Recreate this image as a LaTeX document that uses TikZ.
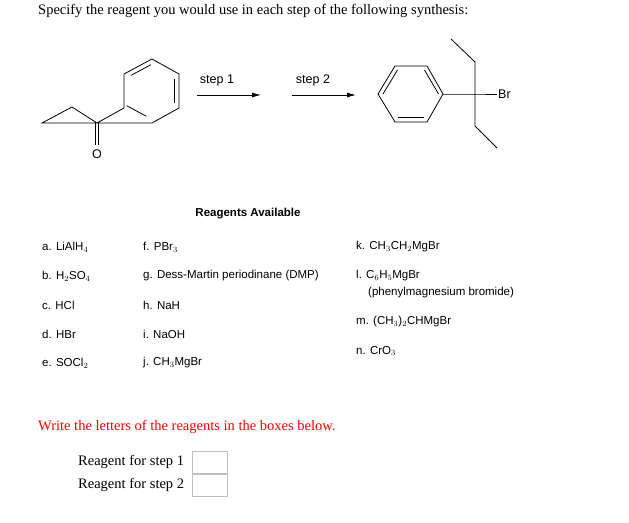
\documentclass[tikz,border=0pt]{standalone}
\usepackage{fontspec}
\setmainfont{Liberation Serif}
\setsansfont{Liberation Sans}
\usetikzlibrary{arrows.meta,calc}
\begin{document}
\begin{tikzpicture}[x=1pt,y=-1pt,
  bond/.style={line width=0.8pt},
  rxn/.style={line width=0.8pt,-{Latex[length=9pt,width=5pt]}},
  lab/.style={font=\sffamily\fontsize{11.5}{13}\selectfont,anchor=west,inner sep=0pt},
  ser/.style={font=\fontsize{14.5}{16}\selectfont,anchor=west,inner sep=0pt},
  atom/.style={font=\sffamily\fontsize{12.5}{14}\selectfont,inner sep=1pt},
  ansbox/.style={draw=black!25,line width=0.8pt,minimum width=35pt,minimum height=22pt,inner sep=0pt}]
\useasboundingbox[fill=white] (0,0) rectangle (629,522);
\node[ser] (title) at (38,11) {Specify the reagent you would use in each step of the following synthesis:};
% left molecule
\coordinate (e1) at (42,123); \coordinate (e2) at (72,107); \coordinate (cc) at (97,123);
\node[atom] (O) at (97,154) {O};
\coordinate (a1) at (124,108); \coordinate (a2) at (124,74); \coordinate (a3) at (152,59);
\coordinate (a4) at (179,74); \coordinate (a5) at (179,108); \coordinate (a6) at (152,123);
\draw[bond] (e1)--(e2)--(cc)--(a1)--(a2)--(a3)--(a4)--(a5)--(a6)--cycle;
\draw[bond] (95.5,123)--(95.5,145) (98.5,123)--(98.5,145);
\draw[bond] ($(a2)!0.15!(a3)+(3,3.5)$) -- ($(a2)!0.85!(a3)+(3,3.5)$);
\draw[bond] (174.5,79)--(174.5,103);
\draw[bond] ($(a6)!0.15!(a1)+(-1.5,-4.5)$) -- ($(a6)!0.85!(a1)+(-1.5,-4.5)$);
% arrows
\coordinate (r1s) at (197,95); \coordinate (r1e) at (261,95);
\coordinate (r2s) at (292,95); \coordinate (r2e) at (356,95);
\draw[rxn] (r1s)--(r1e); \draw[rxn] (r2s)--(r2e);
\node[atom] (s1) at (217,80) {step 1};
\node[atom] (s2) at (313,80) {step 2};
% right molecule
\coordinate (b1) at (378,94); \coordinate (b2) at (395,66); \coordinate (b3) at (427,66);
\coordinate (b4) at (443,94); \coordinate (b5) at (427,122); \coordinate (b6) at (395,122);
\draw[bond] (b1)--(b2)--(b3)--(b4)--(b5)--(b6)--cycle;
\draw[bond] (383,94)--(397.5,70) (424.5,70)--(438.5,94) (398,117.5)--(424,117.5);
\coordinate (q) at (475,94);
\node[atom,anchor=west] (Br) at (497,94) {Br};
\draw[bond] (b4)--(q)--(Br.west);
\draw[bond] (q)--(475,62)--(451,39);
\draw[bond] (q)--(475,126)--(497,148);
% reagents
\node[font=\sffamily\bfseries\fontsize{11.5}{13}\selectfont] (ra) at (248,214) {Reagents Available};
\node[lab] (a) at (42,247) {a. LiAlH$_4$};
\node[lab] (b) at (42,276) {b. H$_2$SO$_4$};
\node[lab] (c) at (42,305) {c. HCl};
\node[lab] (d) at (42,334) {d. HBr};
\node[lab] (e) at (42,363) {e. SOCl$_2$};
\node[lab] (f) at (143,247) {f. PBr$_3$};
\node[lab] (g) at (143,276) {g. Dess-Martin periodinane (DMP)};
\node[lab] (h) at (143,305) {h. NaH};
\node[lab] (i) at (143,334) {i. NaOH};
\node[lab] (j) at (143,363) {j. CH$_3$MgBr};
\node[lab] (k) at (356,247) {k. CH$_3$CH$_2$MgBr};
\node[lab] (l) at (356,276) {l. C$_6$H$_5$MgBr};
\node[lab] (l2) at (368,293) {(phenylmagnesium bromide)};
\node[lab] (m) at (356,322) {m. (CH$_3$)$_2$CHMgBr};
\node[lab] (n) at (356,351) {n. CrO$_3$};
% answers
\node[ser,text=red] (w) at (38,427) {Write the letters of the reagents in the boxes below.};
\node[ser] (r1) at (78,462) {Reagent for step 1};
\node[ser] (r2) at (78,485) {Reagent for step 2};
\node[ansbox] (bx1) at (210,462) {};
\node[ansbox] (bx2) at (210,485) {};
\end{tikzpicture}
\end{document}
